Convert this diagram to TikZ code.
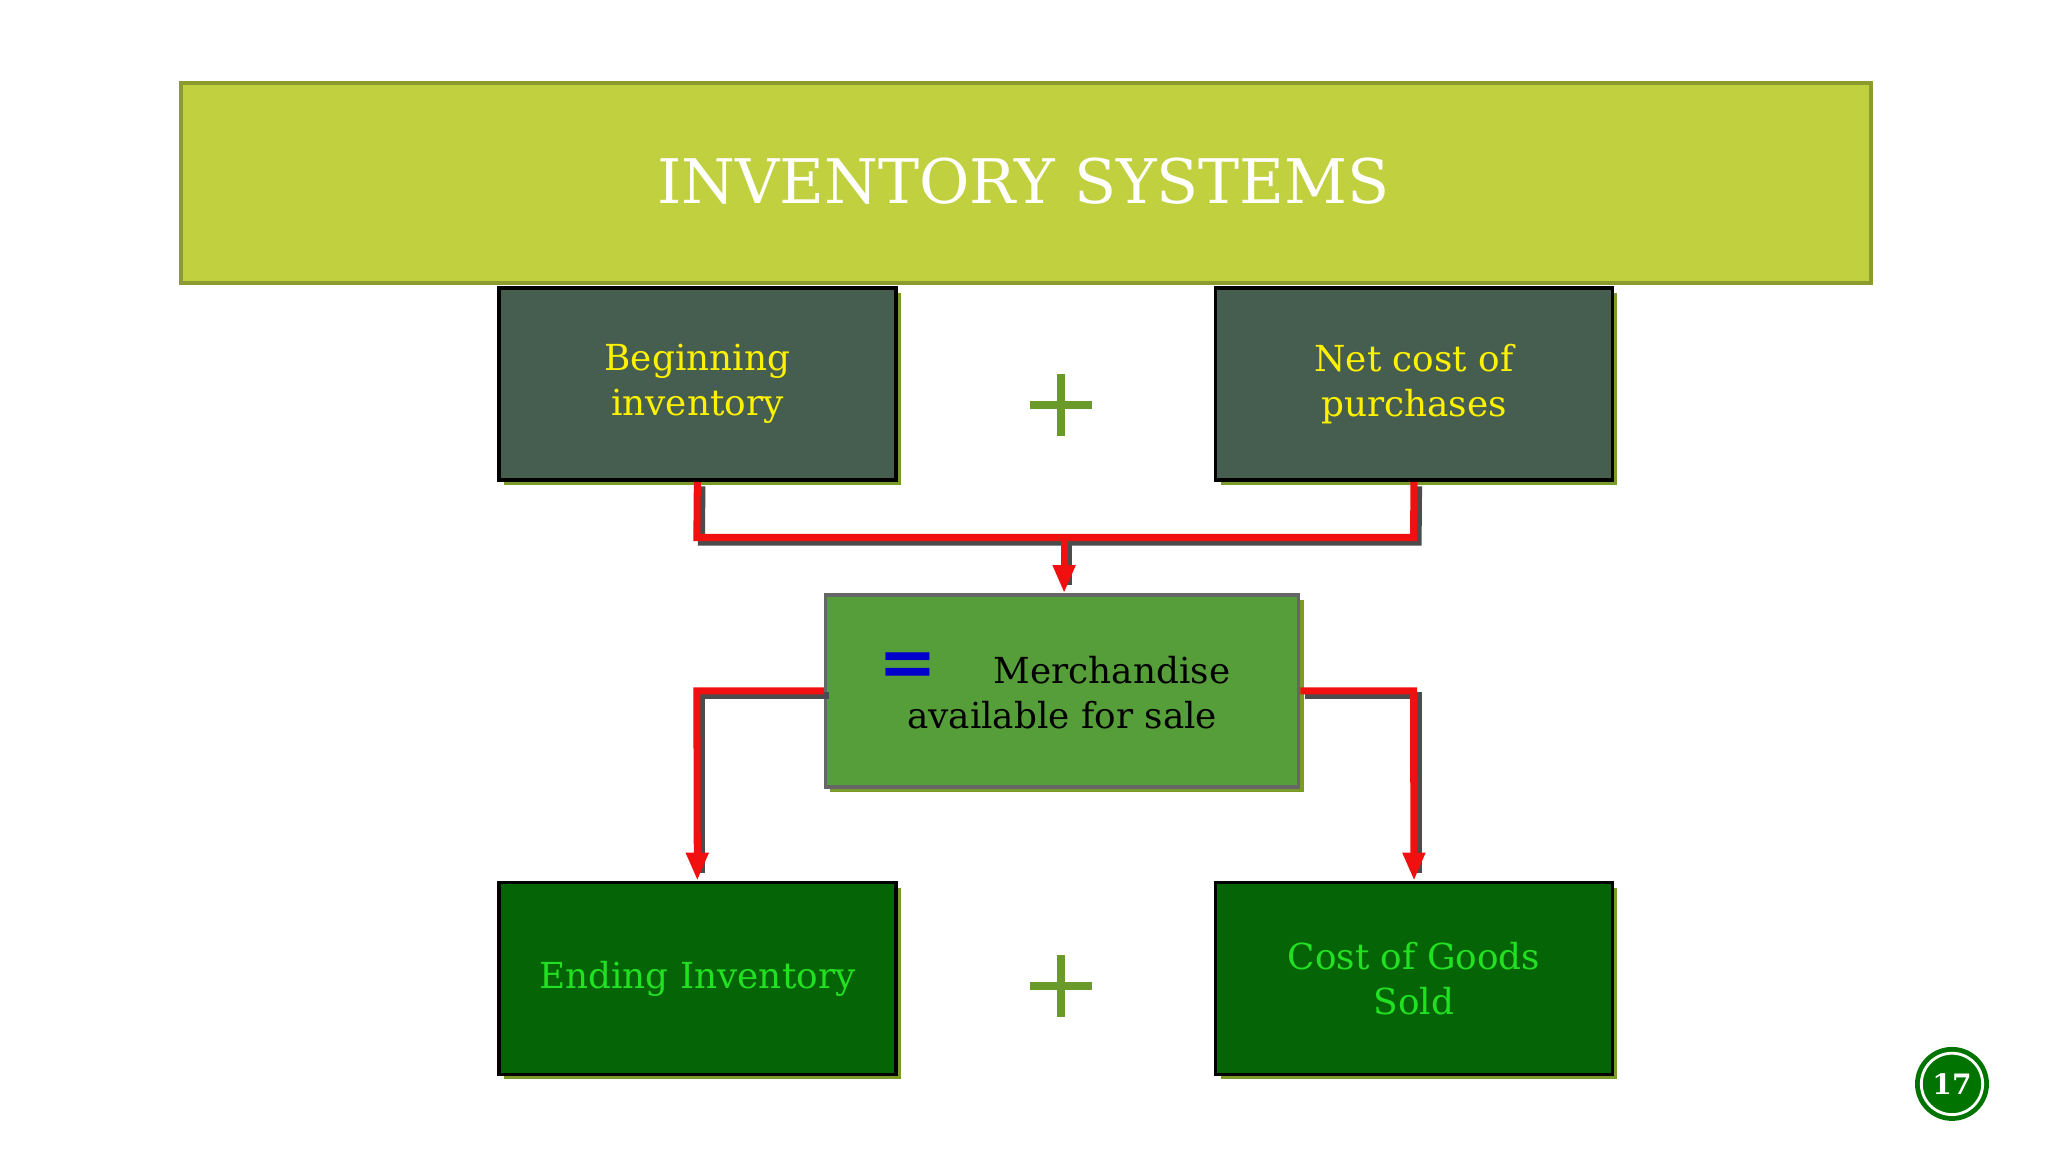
\documentclass[tikz,border=0pt]{standalone}
\usepackage{fontspec}
\setmainfont{DejaVu Serif}
\usetikzlibrary{arrows.meta}
\definecolor{titlebg}{HTML}{C1D03E}
\definecolor{titlebd}{HTML}{8C9C2C}
\definecolor{dkbox}{HTML}{455E50}
\definecolor{midbox}{HTML}{559E3A}
\definecolor{botbox}{HTML}{056405}
\definecolor{shad}{HTML}{7A9A2A}
\definecolor{plusc}{HTML}{6A9A2A}
\definecolor{txtgreen}{HTML}{22E022}
\definecolor{redline}{HTML}{F01010}
\begin{document}
\begin{tikzpicture}[x=0.0099cm,y=-0.0099cm,
  lbl/.style={font=\fontsize{10.2}{12.8}\selectfont,align=center},
  sbox/.style={draw=black,line width=1pt,minimum width=3.97cm,minimum height=1.92cm,inner sep=0},
  conn/.style={draw=redline,line width=2pt},
  connsh/.style={draw=black!70,line width=2pt},
  arr/.style={-{Triangle[length=8pt,width=6pt]}},
  plus/.style={draw=plusc,line width=2.4pt}]
\useasboundingbox (0,0) rectangle (2069,1164);
\fill[white] (0,0) rectangle (2069,1164);
% title
\node[draw=titlebd,line width=1.2pt,fill=titlebg,minimum width=16.9cm,minimum height=2.0cm,anchor=north west,inner sep=0] (title) at (181,82) {};
\node[text=white,font=\fontsize{17.5}{20}\selectfont] (tt) at (1034,183) {INVENTORY SYSTEMS};
% shadows
\foreach \a/\b/\c/\d in {504/291/905/485,1228/291/1629/485,834/601/1312/795,504/892/905/1085,1228/892/1629/1085}
  \fill[shad] (\a+5,\b+5) rectangle (\c+5,\d+5);
% boxes
\node[sbox,fill=dkbox,lbl,text=yellow] (b1) at (704.5,388) {Beginning\\inventory};
\node[sbox,fill=dkbox,lbl,text=yellow] (b2) at (1428.5,388) {Net cost of\\purchases};
\node[draw=black!60,line width=1pt,fill=midbox,minimum width=4.73cm,minimum height=1.92cm,inner sep=0] (m) at (1073,698) {};
\node[lbl,text=black] (mt) at (1073,700) {\hspace*{1.0cm}Merchandise\\available for sale};
\node[text=blue!80!black,font=\fontsize{20}{20}\selectfont\bfseries] (eq) at (917,676) {=};
\node[sbox,fill=botbox,lbl,text=txtgreen] (e) at (704.5,988.5) {Ending Inventory};
\node[sbox,fill=botbox,lbl,text=txtgreen] (c) at (1428.5,988.5) {Cost of Goods\\Sold};
% plus signs
\coordinate (p1) at (1072,409);
\coordinate (p2) at (1072,996);
\foreach \p in {p1,p2}{
  \draw[plus] (\p) ++(0,-31) -- ++(0,62);
  \draw[plus] (\p) ++(-31,0) -- ++(62,0);}
% connectors
\coordinate (j1) at (704,543);
\coordinate (j2) at (1428,543);
\coordinate (jm) at (1075,543);
\coordinate (l1) at (704,698);
\coordinate (r1) at (1428,698);
\coordinate (ma) at (1075,586);
\coordinate (ea) at (704,877);
\coordinate (ca) at (1428,877);
\begin{scope}[transform canvas={shift={(1.3pt,-1.3pt)}}]
\draw[connsh] (b1.south) -- (j1) -- (j2) -- (b2.south);
\draw[connsh] (jm) -- (ma);
\draw[connsh] (m.west) -- (l1) -- (ea);
\draw[connsh] (m.east) -- (r1) -- (ca);
\end{scope}
\draw[conn] (b1.south) -- (j1) -- (j2) -- (b2.south);
\draw[conn,arr] (jm) -- (jm |- m.north);
\draw[conn,arr] (m.west) -- (l1) -- (e.north);
\draw[conn,arr] (m.east) -- (r1) -- (c.north);
% page number
\node[circle,fill=green!45!black,minimum size=0.74cm,inner sep=0] (pg) at (1972,1095) {};
\draw[white,line width=0.8pt] (pg.center) circle (31);
\node[text=white,font=\fontsize{8}{8}\selectfont\bfseries] (pgt) at (pg.center) {17};
\end{tikzpicture}
\end{document}
